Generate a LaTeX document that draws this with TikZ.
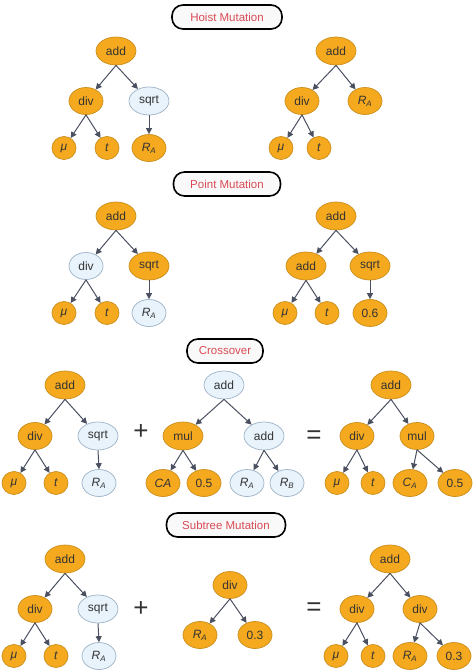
\documentclass[tikz,border=0pt]{standalone}
\usepackage{fontspec}
\setmainfont{Liberation Sans}
\usetikzlibrary{shapes.geometric,arrows.meta}
\definecolor{org}{HTML}{F5A91F}
\definecolor{orgd}{HTML}{C98E1C}
\definecolor{lb}{HTML}{E8F3FC}
\definecolor{lbd}{HTML}{9DB2C6}
\definecolor{arc}{HTML}{4A5060}
\definecolor{ttl}{HTML}{D94A55}
\definecolor{txt}{HTML}{333333}
\newcommand{\RA}{\textit{R}\textsubscript{\textit{A}}}
\newcommand{\RB}{\textit{R}\textsubscript{\textit{B}}}
\newcommand{\CA}{\textit{C}\textsubscript{\textit{A}}}
\newcommand{\MU}{\raisebox{-1.2pt}{\textit{μ}}}
\begin{document}
\begin{tikzpicture}[x=1pt,y=-1pt,
 nd/.style={ellipse,inner sep=0pt,line width=0.7pt,text=txt,font=\fontsize{12}{14}\selectfont},
 on/.style={nd,fill=org,draw=orgd},
 bn/.style={nd,fill=lb,draw=lbd},
 wL/.style={minimum width=40pt,minimum height=28pt},
 wM/.style={minimum width=34pt,minimum height=27pt},
 wS/.style={minimum width=24pt,minimum height=23pt},
 ar/.style={draw=arc,line width=1pt,-{Triangle[length=6pt,width=6pt]}},
 ttlbox/.style={draw=black,line width=1.6pt,rounded corners=11pt,fill=gray!5,text=ttl,minimum height=24pt,inner sep=0pt,font=\fontsize{11.5}{13}\selectfont},
 opsym/.style={text=txt,inner sep=0pt,font=\fontsize{26}{26}\selectfont}
]
\useasboundingbox (0,0) rectangle (474,672);

% ---------- Hoist Mutation ----------
\node[ttlbox,minimum width=110pt] (t1) at (227,17) {Hoist Mutation};
\node[on,wL] (a1) at (116,51) {add};
\node[on,wM] (a1d) at (86,101) {div};
\node[bn,wL] (a1s) at (149,101) {sqrt};
\node[on,wS] (a1m) at (64,148) {\MU};
\node[on,wS] (a1t) at (107,148) {\textit{t}};
\node[on,wM] (a1r) at (149,148) {\RA};
\draw[ar] (a1.south) -- (a1d);
\draw[ar] (a1.south) -- (a1s);
\draw[ar] (a1d.south) -- (a1m);
\draw[ar] (a1d.south) -- (a1t);
\draw[ar] (a1s.south) -- (a1r.north);

\node[on,wL] (b1) at (336,51) {add};
\node[on,wM] (b1d) at (302,101) {div};
\node[on,wM] (b1r) at (365,101) {\RA};
\node[on,wS] (b1m) at (281,148) {\MU};
\node[on,wS] (b1t) at (319,148) {\textit{t}};
\draw[ar] (b1.south) -- (b1d);
\draw[ar] (b1.south) -- (b1r);
\draw[ar] (b1d.south) -- (b1m);
\draw[ar] (b1d.south) -- (b1t);

% ---------- Point Mutation ----------
\node[ttlbox,minimum width=107pt] (t2) at (227,184) {Point Mutation};
\node[on,wL] (a2) at (116,216) {add};
\node[bn,wM] (a2d) at (86,266) {div};
\node[on,wL] (a2s) at (149,266) {sqrt};
\node[on,wS] (a2m) at (64,313) {\MU};
\node[on,wS] (a2t) at (107,313) {\textit{t}};
\node[bn,wM] (a2r) at (149,313) {\RA};
\draw[ar] (a2.south) -- (a2d);
\draw[ar] (a2.south) -- (a2s);
\draw[ar] (a2d.south) -- (a2m);
\draw[ar] (a2d.south) -- (a2t);
\draw[ar] (a2s.south) -- (a2r.north);

\node[on,wL] (b2) at (336,216) {add};
\node[on,wL] (b2a) at (306,266) {add};
\node[on,wL] (b2s) at (370,266) {sqrt};
\node[on,wS] (b2m) at (285,313) {\MU};
\node[on,wS] (b2t) at (327,313) {\textit{t}};
\node[on,wM] (b2v) at (370,313) {0.6};
\draw[ar] (b2.south) -- (b2a);
\draw[ar] (b2.south) -- (b2s);
\draw[ar] (b2a.south) -- (b2m);
\draw[ar] (b2a.south) -- (b2t);
\draw[ar] (b2s.south) -- (b2v.north);

% ---------- Crossover ----------
\node[ttlbox,minimum width=76pt] (t3) at (225,351) {Crossover};
\node[on,wL] (a3) at (65,385) {add};
\node[on,wM] (a3d) at (35,436) {div};
\node[bn,wL] (a3s) at (98,436) {sqrt};
\node[on,wS] (a3m) at (14,483) {\MU};
\node[on,wS] (a3t) at (56,483) {\textit{t}};
\node[bn,wM] (a3r) at (99,483) {\RA};
\draw[ar] (a3.south) -- (a3d);
\draw[ar] (a3.south) -- (a3s);
\draw[ar] (a3d.south) -- (a3m);
\draw[ar] (a3d.south) -- (a3t);
\draw[ar] (a3s.south) -- (a3r.north);

\node[opsym] (p3) at (141,432) {+};

\node[bn,wL] (c3) at (224,385) {add};
\node[on,wL] (c3m) at (183,436) {mul};
\node[bn,wL] (c3a) at (264,436) {add};
\node[on,wM] (c3c) at (163,483) {\textit{CA}};
\node[on,wM] (c3v) at (204,483) {0.5};
\node[bn,wM] (c3r) at (247,483) {\RA};
\node[bn,wM] (c3b) at (287,483) {\RB};
\draw[ar] (c3.south) -- (c3m);
\draw[ar] (c3.south) -- (c3a);
\draw[ar] (c3m.south) -- (c3c);
\draw[ar] (c3m.south) -- (c3v);
\draw[ar] (c3a.south) -- (c3r);
\draw[ar] (c3a.south) -- (c3b);

\node[opsym] (e3) at (314,437) {=};

\node[on,wL] (b3) at (391,385) {add};
\node[on,wM] (b3d) at (357,436) {div};
\node[on,wM] (b3m) at (417,436) {mul};
\node[on,wS] (b3mu) at (337,483) {\MU};
\node[on,wS] (b3t) at (373,483) {\textit{t}};
\node[on,wM] (b3c) at (410,483) {\CA};
\node[on,wM] (b3v) at (455,483) {0.5};
\draw[ar] (b3.south) -- (b3d);
\draw[ar] (b3.south) -- (b3m);
\draw[ar] (b3d.south) -- (b3mu);
\draw[ar] (b3d.south) -- (b3t);
\draw[ar] (b3m.south) -- (b3c);
\draw[ar] (b3m.south) -- (b3v);

% ---------- Subtree Mutation ----------
\node[ttlbox,minimum width=119pt] (t4) at (226,525) {Subtree Mutation};
\node[on,wL] (a4) at (65,559) {add};
\node[on,wM] (a4d) at (35,609) {div};
\node[bn,wL] (a4s) at (98,609) {sqrt};
\node[on,wS] (a4m) at (14,656) {\MU};
\node[on,wS] (a4t) at (56,656) {\textit{t}};
\node[bn,wM] (a4r) at (99,656) {\RA};
\draw[ar] (a4.south) -- (a4d);
\draw[ar] (a4.south) -- (a4s);
\draw[ar] (a4d.south) -- (a4m);
\draw[ar] (a4d.south) -- (a4t);
\draw[ar] (a4s.south) -- (a4r.north);

\node[opsym] (p4) at (141,609) {+};

\node[on,wM] (c4) at (230,585) {div};
\node[on,wM] (c4r) at (200,635) {\RA};
\node[on,wM] (c4v) at (255,635) {0.3};
\draw[ar] (c4.south) -- (c4r);
\draw[ar] (c4.south) -- (c4v);

\node[opsym] (e4) at (314,609) {=};

\node[on,wL] (b4) at (390,559) {add};
\node[on,wM] (b4d) at (357,609) {div};
\node[on,wM] (b4e) at (420,609) {div};
\node[on,wS] (b4m) at (336,656) {\MU};
\node[on,wS] (b4t) at (373,656) {\textit{t}};
\node[on,wM] (b4r) at (410,656) {\RA};
\node[on,wM] (b4v) at (454,656) {0.3};
\draw[ar] (b4.south) -- (b4d);
\draw[ar] (b4.south) -- (b4e);
\draw[ar] (b4d.south) -- (b4m);
\draw[ar] (b4d.south) -- (b4t);
\draw[ar] (b4e.south) -- (b4r);
\draw[ar] (b4e.south) -- (b4v);
\end{tikzpicture}
\end{document}
